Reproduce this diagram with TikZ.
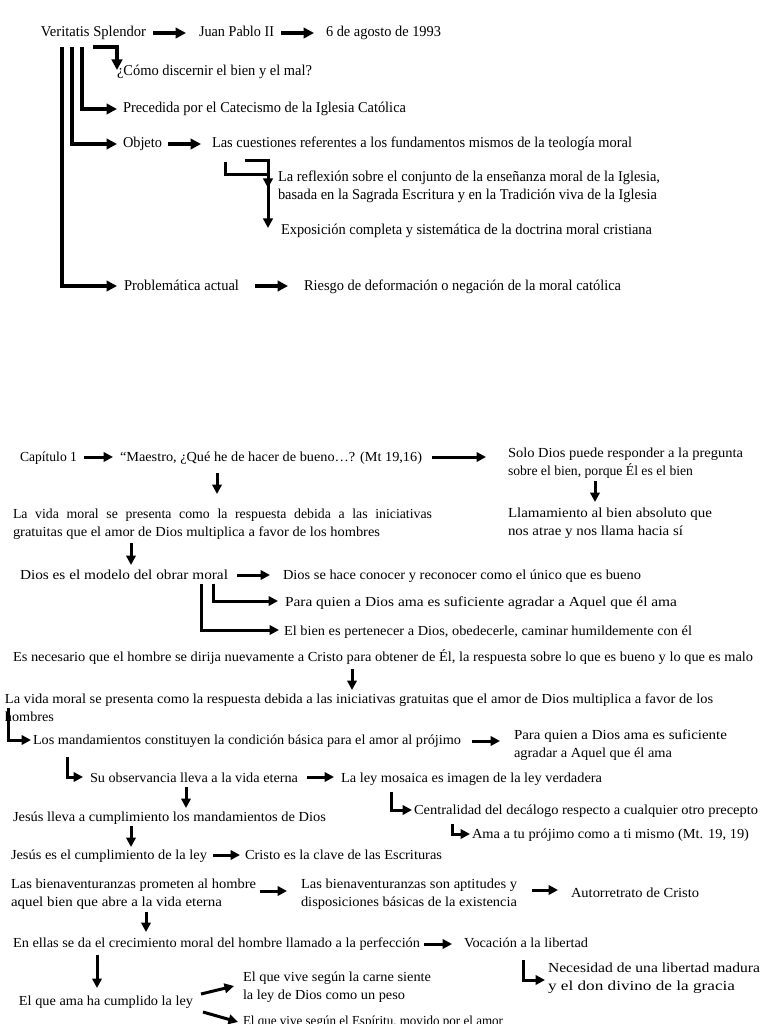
\documentclass[tikz,border=0pt]{standalone}
\usepackage{fontspec}
\setmainfont{Liberation Serif}
\usepackage{graphicx}
\usetikzlibrary{arrows.meta}
\newcommand\fw[2]{\resizebox{#1pt}{\height}{#2}}
\newcommand\jw[2]{\makebox[#1pt][s]{#2}}
\newcommand\two[2]{\vtop{\hbox{#1}\hbox{#2}}}
\tikzset{
  txt/.style={anchor=base west, inner sep=0pt, outer sep=0pt, font=\fontsize{13.8}{18}\selectfont},
  txtT/.style={txt, font=\fontsize{15}{18}\selectfont},
  arr/.style={line width=3pt, -{Triangle[length=9.5pt,width=9.5pt]}},
  arrT/.style={line width=3.6pt, -{Triangle[length=10.5pt,width=10.5pt]}},
}
\begin{document}
\begin{tikzpicture}[x=1pt,y=-1pt]
\fill[white] (0,0) rectangle (768,1024);
\useasboundingbox (0,0) rectangle (768,1024);
\clip (0,0) rectangle (768,1024);
% ---------- top part ----------
\node[txtT] (vs) at (41,37) {\fw{105}{Veritatis Splendor}};
\node[txtT] (jp) at (199,37) {\fw{75}{Juan Pablo II}};
\node[txtT] (date) at (326,37) {\fw{115}{6 de agosto de 1993}};
\node[txtT] (como) at (117,76) {\fw{195}{¿Cómo discernir el bien y el mal?}};
\node[txtT] (prec) at (123,113) {\fw{283}{Precedida por el Catecismo de la Iglesia Católica}};
\node[txtT] (obj) at (123,148) {\fw{39}{Objeto}};
\node[txtT] (cuest) at (212,148) {\fw{420}{Las cuestiones referentes a los fundamentos mismos de la teología moral}};
\node[txtT] (refl) at (278,182) {\two{\fw{382}{La reflexión sobre el conjunto de la enseñanza moral de la Iglesia,}}{\fw{379}{basada en la Sagrada Escritura y en la Tradición viva de la Iglesia}}};
\node[txtT] (expo) at (281,234) {\fw{371}{Exposición completa y sistemática de la doctrina moral cristiana}};
\node[txtT] (prob) at (124,290) {\fw{115}{Problemática actual}};
\node[txtT] (riesgo) at (304,290) {\fw{317}{Riesgo de deformación o negación de la moral católica}};

\draw[arrT] ([shift={(112,-4)}]vs.base west) -- ([shift={(-13,-4)}]jp.base west);
\draw[arrT] ([shift={(82,-4)}]jp.base west) -- ([shift={(-12,-4)}]date.base west);
\draw[arrT] ([shift={(52,10)}]vs.base west) -| ([shift={(0,-6)}]como.base west);
\draw[arrT] ([shift={(41,10)}]vs.base west) |- ([shift={(-6,-4)}]prec.base west);
\draw[arrT] ([shift={(31,10)}]vs.base west) |- ([shift={(-6,-4)}]obj.base west);
\draw[arrT] ([shift={(21,10)}]vs.base west) |- ([shift={(-7,-4)}]prob.base west);
\draw[arrT] ([shift={(45,-4)}]obj.base west) -- ([shift={(-11,-4)}]cuest.base west);
\draw[arr] ([shift={(13,14)}]cuest.base west) |- ([shift={(-10,-7)}]refl.base west) -- ([shift={(-10,6)}]refl.base west);
\draw[arr] ([shift={(33,13)}]cuest.base west) -| ([shift={(-13,-6)}]expo.base west);
\draw[arrT] ([shift={(131,-4)}]prob.base west) -- ([shift={(-16,-4)}]riesgo.base west);

% ---------- bottom part ----------
\node[txt] (cap) at (20,461) {\fw{57}{Capítulo 1}};
\node[txt] (maestro) at (120,461) {\fw{302}{“Maestro, ¿Qué he de hacer de bueno…? (Mt 19,16)}};
\node[txt] (solo) at (508,457) {\two{\fw{235}{Solo Dios puede responder a la pregunta}}{\fw{185}{sobre el bien, porque Él es el bien}}};
\node[txt] (llam) at (508,517) {\two{\fw{204}{Llamamiento al bien absoluto que}}{\fw{175}{nos atrae y nos llama hacia sí}}};
\node[txt] (vida1) at (13,518) {\two{\jw{419}{La vida moral se presenta como la respuesta debida a las iniciativas}}{\fw{367}{gratuitas que el amor de Dios multiplica a favor de los hombres}}};
\node[txt] (modelo) at (20,579) {\fw{208}{Dios es el modelo del obrar moral}};
\node[txt] (conocer) at (283,579) {\fw{358}{Dios se hace conocer y reconocer como el único que es bueno}};
\node[txt] (para1) at (285,606) {\fw{392}{Para quien a Dios ama es suficiente agradar a Aquel que él ama}};
\node[txt] (bien) at (284,635) {\fw{408}{El bien es pertenecer a Dios, obedecerle, caminar humildemente con él}};
\node[txt] (necesario) at (13,661) {\fw{740}{Es necesario que el hombre se dirija nuevamente a Cristo para obtener de Él, la respuesta sobre lo que es bueno y lo que es malo}};
\node[txt] (vida2) at (5,703) {\two{\fw{708}{La vida moral se presenta como la respuesta debida a las iniciativas gratuitas que el amor de Dios multiplica a favor de los}}{\fw{49}{hombres}}};
\node[txt] (mand) at (33,744) {\fw{428}{Los mandamientos constituyen la condición básica para el amor al prójimo}};
\node[txt] (para2) at (514,739) {\two{\fw{213}{Para quien a Dios ama es suficiente}}{\fw{158}{agradar a Aquel que él ama}}};
\node[txt] (obs) at (90,782) {\fw{208}{Su observancia lleva a la vida eterna}};
\node[txt] (mosaica) at (341,782) {\fw{261}{La ley mosaica es imagen de la ley verdadera}};
\node[txt] (central) at (414,814) {\fw{344}{Centralidad del decálogo respecto a cualquier otro precepto}};
\node[txt] (ama) at (472,838) {\fw{277}{Ama a tu prójimo como a ti mismo (Mt. 19, 19)}};
\node[txt] (lleva) at (13,821) {\fw{313}{Jesús lleva a cumplimiento los mandamientos de Dios}};
\node[txt] (cumpl) at (11,859) {\fw{196}{Jesús es el cumplimiento de la ley}};
\node[txt] (clave) at (245,859) {\fw{197}{Cristo es la clave de las Escrituras}};
\node[txt] (prometen) at (11,888) {\two{\fw{245}{Las bienaventuranzas prometen al hombre}}{\fw{211}{aquel bien que abre a la vida eterna}}};
\node[txt] (aptitudes) at (301,888) {\two{\fw{216}{Las bienaventuranzas son aptitudes y}}{\fw{216}{disposiciones básicas de la existencia}}};
\node[txt] (auto) at (571,897) {\fw{128}{Autorretrato de Cristo}};
\node[txt] (ellas) at (13,947) {\fw{407}{En ellas se da el crecimiento moral del hombre llamado a la perfección}};
\node[txt] (vocacion) at (464,947) {\fw{124}{Vocación a la libertad}};
\node[txt] (necesidad) at (548,972) {\two{\fw{212}{Necesidad de una libertad madura}}{\fw{187}{y el don divino de la gracia}}};
\node[txt] (amaley) at (19,1005) {\fw{174}{El que ama ha cumplido la ley}};
\node[txt] (carne) at (243,981) {\two{\fw{188}{El que vive según la carne siente}}{\fw{162}{la ley de Dios como un peso}}};
\node[txt] (espiritu) at (243,1025) {\fw{260}{El que vive según el Espíritu, movido por el amor}};

\draw[arr] ([shift={(64,-4)}]cap.base west) -- ([shift={(-7,-4)}]maestro.base west);
\draw[arr] ([shift={(312,-4)}]maestro.base west) -- ([shift={(-22,0)}]solo.base west);
\draw[arr] ([shift={(97,12)}]maestro.base west) -- ([shift={(204,-24)}]vida1.base west);
\draw[arr] ([shift={(87,24)}]solo.base west) -- ([shift={(87,-15)}]llam.base west);
\draw[arr] ([shift={(118,25)}]vida1.base west) -- ([shift={(111,-14)}]modelo.base west);
\draw[arr] ([shift={(217,-4)}]modelo.base west) -- ([shift={(-13,-4)}]conocer.base west);
\draw[arr] ([shift={(193,5)}]modelo.base west) |- ([shift={(-7,-5)}]para1.base west);
\draw[arr] ([shift={(181,5)}]modelo.base west) |- ([shift={(-5,-5)}]bien.base west);
\draw[arr] ([shift={(339,8)}]necesario.base west) -- ([shift={(347,-13)}]vida2.base west);
\draw[arr] ([shift={(3,5)}]vida2.base west) |- ([shift={(-2,-4)}]mand.base west);
\draw[arr] ([shift={(439,-3)}]mand.base west) -- ([shift={(-14,2)}]para2.base west);
\draw[arr] ([shift={(34,13)}]mand.base west) |- ([shift={(-7,-5)}]obs.base west);
\draw[arr] ([shift={(217,-5)}]obs.base west) -- ([shift={(-7,-5)}]mosaica.base west);
\draw[arr] ([shift={(96,5)}]obs.base west) -- ([shift={(173,-13)}]lleva.base west);
\draw[arr] ([shift={(50,10)}]mosaica.base west) |- ([shift={(-2,-4)}]central.base west);
\draw[arr] ([shift={(38,10)}]central.base west) |- ([shift={(-2,-4)}]ama.base west);
\draw[arr] ([shift={(118,5)}]lleva.base west) -- ([shift={(120,-12)}]cumpl.base west);
\draw[arr] ([shift={(202,-4)}]cumpl.base west) -- ([shift={(-5,-4)}]clave.base west);
\draw[arr] ([shift={(249,3)}]prometen.base west) -- ([shift={(-14,3)}]aptitudes.base west);
\draw[arr] ([shift={(231,2)}]aptitudes.base west) -- ([shift={(-13,-7)}]auto.base west);
\draw[arr] ([shift={(135,24)}]prometen.base west) -- ([shift={(133,-15)}]ellas.base west);
\draw[arr] ([shift={(411,-3)}]ellas.base west) -- ([shift={(-12,-3)}]vocacion.base west);
\draw[arr] ([shift={(84,8)}]ellas.base west) -- ([shift={(78,-17)}]amaley.base west);
\draw[arr] ([shift={(59,13)}]vocacion.base west) |- ([shift={(-3,8)}]necesidad.base west);
\draw[arr] ([shift={(182,-11)}]amaley.base west) -- ([shift={(-9,5)}]carne.base west);
\draw[arr] ([shift={(184,7)}]amaley.base west) -- ([shift={(-5,-3)}]espiritu.base west);
\end{tikzpicture}
\end{document}
